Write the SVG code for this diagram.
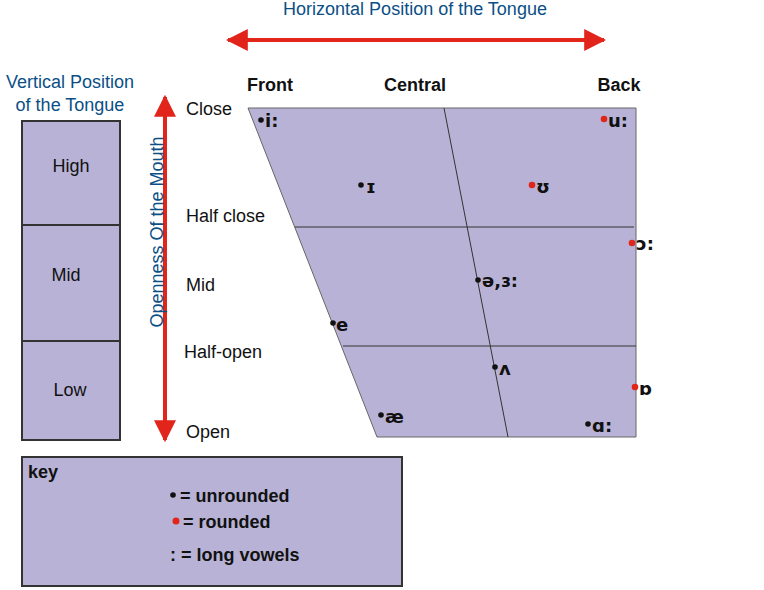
<svg xmlns="http://www.w3.org/2000/svg" width="764" height="590" viewBox="0 0 764 590">
<style>
text{font-family:"Liberation Sans",Arial,sans-serif}
.lab{font-size:18px;fill:#111}
.hd{font-size:18px;font-weight:bold;fill:#111}
.blue{font-size:18px;fill:#0b4f86}
.v{font-size:18px;font-weight:bold;fill:#111;font-family:"DejaVu Sans",sans-serif}
.box{fill:#b8b3d6;stroke:#333;stroke-width:2}
.ln{stroke:#333;stroke-width:1;fill:none}
</style>
<defs>
<marker id="ah" viewBox="0 0 10 10" refX="9" refY="5" markerWidth="5.5" markerHeight="5.5" orient="auto-start-reverse"><path d="M0,0L10,5L0,10z" fill="#e1251b"/></marker>
</defs>
<g id="connectors">
<line x1="228" y1="40" x2="604" y2="40" stroke="#e1251b" stroke-width="4" marker-start="url(#ah)" marker-end="url(#ah)"/>
<line x1="165" y1="97" x2="165" y2="440" stroke="#e1251b" stroke-width="4" marker-start="url(#ah)" marker-end="url(#ah)"/>
</g>
<text class="blue" x="415" y="15" text-anchor="middle">Horizontal Position of the Tongue</text>
<text class="blue" x="70" y="88" text-anchor="middle">Vertical Position</text>
<text class="blue" x="70" y="111" text-anchor="middle">of the Tongue</text>
<text class="blue" transform="translate(163,232) rotate(-90)" text-anchor="middle">Openness Of the Mouth</text>
<g id="heads">
<text class="hd" x="270" y="91" text-anchor="middle">Front</text>
<text class="hd" x="415" y="91" text-anchor="middle">Central</text>
<text class="hd" x="619" y="91" text-anchor="middle">Back</text>
</g>
<g id="levels">
<text class="lab" x="186" y="115">Close</text>
<text class="lab" x="186" y="222">Half close</text>
<text class="lab" x="186" y="291">Mid</text>
<text class="lab" x="184" y="358">Half-open</text>
<text class="lab" x="186" y="438">Open</text>
</g>
<g id="left-boxes">
<rect class="box" x="22" y="121" width="98" height="104"/>
<rect class="box" x="22" y="225" width="98" height="116"/>
<rect class="box" x="22" y="341" width="98" height="99"/>
<text class="lab" x="71" y="172" text-anchor="middle">High</text>
<text class="lab" x="66" y="281" text-anchor="middle">Mid</text>
<text class="lab" x="70" y="396" text-anchor="middle">Low</text>
</g>
<g id="chart">
<polygon points="248,108 636,108 636,437 377,437" fill="#b8b3d6" stroke="#666" stroke-width="1"/>
<line class="ln" x1="295" y1="227" x2="634" y2="227"/>
<line class="ln" x1="343" y1="346" x2="636" y2="346"/>
<line class="ln" x1="444" y1="108" x2="508" y2="437"/>
</g>
<g id="vowels">
<circle cx="261" cy="120" r="2.8" fill="#111"/><text class="v" x="265" y="127">i:</text>
<circle cx="604" cy="119" r="3.3" fill="#e1251b"/><text class="v" x="608" y="127">u:</text>
<circle cx="361" cy="185" r="2.8" fill="#111"/><text class="v" x="366" y="193">ɪ</text>
<circle cx="532" cy="185" r="3.3" fill="#e1251b"/><text class="v" x="536" y="193">ʊ</text>
<circle cx="632" cy="243" r="3.3" fill="#e1251b"/><text class="v" x="636" y="250">ɔ:</text>
<circle cx="478" cy="280" r="2.8" fill="#111"/><text class="v" x="482" y="287">ə,ɜ:</text>
<circle cx="333" cy="323" r="2.8" fill="#111"/><text class="v" x="336" y="331">e</text>
<circle cx="495" cy="367" r="2.8" fill="#111"/><text class="v" x="499" y="375">ʌ</text>
<circle cx="635" cy="387" r="3.3" fill="#e1251b"/><text class="v" x="639" y="395">ɒ</text>
<circle cx="381" cy="415" r="2.8" fill="#111"/><text class="v" x="385" y="423">æ</text>
<circle cx="588" cy="424" r="2.8" fill="#111"/><text class="v" x="592" y="432">ɑ:</text>
</g>
<g id="key">
<rect class="box" x="22" y="457" width="380" height="129"/>
<text class="hd" x="28" y="478">key</text>
<circle cx="173" cy="495" r="2.8" fill="#111"/>
<text class="hd" x="180" y="502">= unrounded</text>
<circle cx="176" cy="521" r="3.5" fill="#e1251b"/>
<text class="hd" x="183" y="528">= rounded</text>
<text class="hd" x="170" y="561">: = long vowels</text>
</g>
</svg>
